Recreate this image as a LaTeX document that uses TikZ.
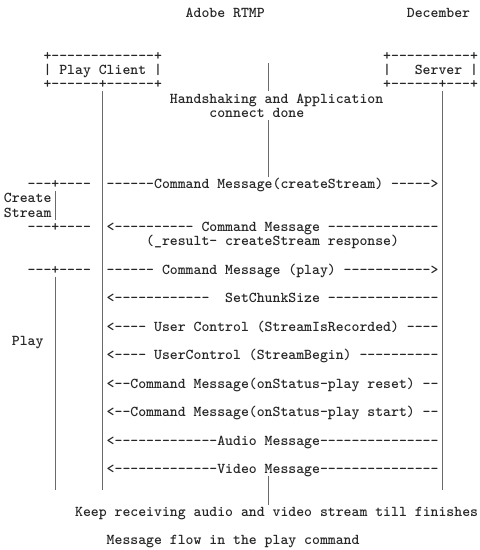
\documentclass[tikz,border=0pt]{standalone}
\definecolor{ink}{HTML}{262626}
\definecolor{barc}{HTML}{6A6A6A}
\tikzset{
  txt/.style={anchor=base west, inner sep=0pt, outer sep=0pt, text=ink,
    font=\fontsize{15.05}{15}\selectfont\ttfamily\bfseries},
  bar/.style={draw=barc, line width=0.9pt}
}
% column left edge: 4+7.9*col ; row centre: 184+14.25*row (downwards)
\newcommand\rowtext[4]{\node[txt] (#1) at ({4+7.9*#2},{-(188.5+14.25*#3)}) {#4};}
\newcommand\vbar[4]{%
  \coordinate (#1a) at ({4+7.9*(#2+0.5)},{-(184+14.25*#3-7.1)});
  \coordinate (#1b) at ({4+7.9*(#2+0.5)},{-(184+14.25*#4+7.1)});
  \draw[bar] (#1a) -- (#1b);}
\begin{document}
\begin{tikzpicture}[x=1pt,y=1pt]
\useasboundingbox (0,0) rectangle (480,-550);
\clip (0,0) rectangle (480,-550);
% header
\rowtext{hdrA}{23}{-12}{Adobe RTMP}
\rowtext{hdrB}{51}{-12}{December}
% boxes
\rowtext{cbt}{5}{-9}{+-------------+}
\rowtext{cbm}{5}{-8}{| Play Client |}
\rowtext{cbb}{5}{-7}{+------+------+}
\rowtext{sbt}{48}{-9}{+----------+}
\rowtext{sbm}{48}{-8}{|~~~Server |}
\rowtext{sbb}{48}{-7}{+------+---+}
\rowtext{hs1}{21}{-6}{Handshaking and Application}
\rowtext{hs2}{26}{-5}{connect done}
% create stream
\rowtext{cs0}{3}{0}{---+----}
\rowtext{m1}{13}{0}{------Command Message(createStream) ----->}
\rowtext{cs1}{0}{1}{Create}
\rowtext{cs2}{0}{2}{Stream}
\rowtext{cs3}{3}{3}{---+----}
\rowtext{m2}{13}{3}{<---------- Command Message --------------}
\rowtext{m2b}{18}{4}{(\_result- createStream response)}
% play
\rowtext{pl0}{3}{6}{---+----}
\rowtext{m3}{13}{6}{------ Command Message (play) ----------->}
\rowtext{m4}{13}{8}{<------------~~SetChunkSize --------------}
\rowtext{m5}{13}{10}{<---- User Control (StreamIsRecorded) ----}
\rowtext{pl1}{1}{11}{Play}
\rowtext{m6}{13}{12}{<---- UserControl (StreamBegin) ----------}
\rowtext{m7}{13}{14}{<--Command Message(onStatus-play reset) --}
\rowtext{m8}{13}{16}{<--Command Message(onStatus-play start) --}
\rowtext{m9}{13}{18}{<-------------Audio Message---------------}
\rowtext{m10}{13}{20}{<-------------Video Message---------------}
\rowtext{keep}{9}{23}{Keep receiving audio and video stream till finishes}
\rowtext{cap}{13}{25}{Message flow in the play command}
% vertical bars
\vbar{cl}{12}{-6}{21}
\vbar{sv}{55}{-6}{21}
\vbar{ma}{33}{-8}{-7}
\vbar{mb}{33}{-4}{-1}
\vbar{mc}{33}{21}{22}
\vbar{ba}{6}{1}{2}
\vbar{bb}{6}{7}{21}
\end{tikzpicture}
\end{document}
